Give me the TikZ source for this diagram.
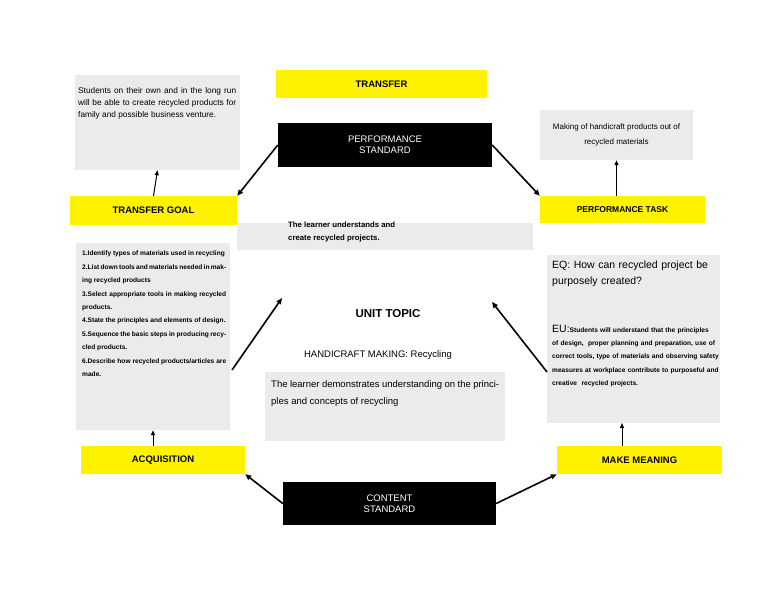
\documentclass[tikz,border=0pt]{standalone}
\usepackage{fontspec}
\setmainfont{Liberation Sans}
\usetikzlibrary{arrows.meta}
\begin{document}
\begin{tikzpicture}[x=1pt,y=-1pt,
  ybox/.style={fill=yellow,inner sep=0pt,font=\bfseries\fontsize{9.5}{11}\selectfont},
  bbox/.style={fill=black,text=white,inner sep=0pt,align=center,font=\fontsize{9.5}{11}\selectfont},
  gbox/.style={fill=black!8,inner sep=0pt},
  arr/.style={-{Triangle[length=6pt,width=5pt]},line width=1.6pt},
  sarr/.style={-{Triangle[length=5pt,width=4pt]},line width=1pt}]
\useasboundingbox (0,0) rectangle (768,594);
\fill[white] (0,0) rectangle (768,594);
% yellow
\node[ybox,minimum width=211,minimum height=28] (tr) at (381.5,84) {TRANSFER};
\node[ybox,minimum width=167,minimum height=29] (tg) at (153.5,210.5) {TRANSFER GOAL};
\node[ybox,minimum width=165,minimum height=27,font=\bfseries\fontsize{8.5}{10}\selectfont] (pt) at (622.5,209.5) {PERFORMANCE TASK};
\node[ybox,minimum width=164,minimum height=28] (acq) at (163,460) {ACQUISITION};
\node[ybox,minimum width=165,minimum height=28] (mm) at (639.5,460) {MAKE MEANING};
% black
\node[bbox,minimum width=214,minimum height=44] (ps) at (385,145) {PERFORMANCE\\STANDARD};
\node[bbox,minimum width=213,minimum height=43] (cs) at (389.5,503.5) {CONTENT\\STANDARD};
% gray
\node[gbox,minimum width=165,minimum height=95] (tl) at (157.5,122.5) {};
\node[text width=158,align=justify,font=\fontsize{8.3}{12}\selectfont,inner sep=0pt,anchor=north west] at (78,87) {Students on their own and in the long run will be able to create recycled products for family and possible business venture.};
\node[gbox,minimum width=153,minimum height=50,align=center,font=\fontsize{8}{15}\selectfont] (tri) at (616.5,135) {Making of handicraft products out of\\recycled materials};
\node[gbox,minimum width=296,minimum height=27] (ctr) at (385,236.5) {};
\node[anchor=north west,inner sep=0pt,align=left,font=\bfseries\fontsize{7.8}{13}\selectfont] at (288,222) {The learner understands and\\create recycled projects.};
\node[gbox,minimum width=154,minimum height=187] (ll) at (153,336.5) {};
\node[anchor=north west,inner sep=0pt,text width=144,align=justify,font=\bfseries\fontsize{6.6}{13.4}\selectfont] at (82,251) {1.Identify types of materials used in recycling\\
2.List down tools and materials needed in making recycled products\\
3.Select appropriate tools in making recycled products.\\
4.State the principles and elements of design.\\
5.Sequence the basic steps in producing recycled products.\\
6.Describe how recycled products/articles are made.};
\node[gbox,minimum width=173,minimum height=168] (rr) at (633.5,339) {};
\node[anchor=north west,inner sep=0pt,text width=165,align=left,font=\fontsize{10.5}{15.5}\selectfont] at (552,261) {EQ: How can recycled project be purposely created?};
\node[anchor=north west,inner sep=0pt,text width=168,align=left,font=\bfseries\fontsize{6.6}{13.2}\selectfont] at (552,325) {{\mdseries\fontsize{10.5}{13}\selectfont EU:}Students will understand that the principles of design,\ \ proper planning and preparation, use of correct tools, type of materials and observing safety measures at workplace contribute to purposeful and\ \ creative\ \ recycled projects.};
\node[font=\bfseries\fontsize{11.5}{13}\selectfont] (ut) at (388,314) {UNIT TOPIC};
\node[font=\fontsize{9.5}{11}\selectfont] (hm) at (378,355) {HANDICRAFT MAKING: Recycling};
\node[gbox,minimum width=240,minimum height=69] (cb) at (385,406.5) {};
\node[anchor=north west,inner sep=0pt,text width=228,align=justify,font=\fontsize{9.5}{17}\selectfont] at (271,380) {The learner demonstrates understanding on the principles and concepts of recycling};
% arrows
\coordinate (c1) at (282,298);
\coordinate (c2) at (492,302);
\draw[arr] (ps.west) -- (tg.north east);
\draw[arr] (ps.east) -- (pt.north west);
\draw[arr] (cs.west) -- (acq.south east);
\draw[arr] (cs.east) -- (mm.south west);
\draw[arr] (232,370) -- (c1);
\draw[arr] (547,372) -- (c2);
\draw[sarr] (tg.north) -- (tl.south);
\draw[sarr] (pt.north -| tri.south) -- (tri.south);
\draw[sarr] (acq.north -| ll.south) -- (ll.south);
\draw[sarr] (mm.north -| 622,0) -- (622,423);
\end{tikzpicture}
\end{document}
